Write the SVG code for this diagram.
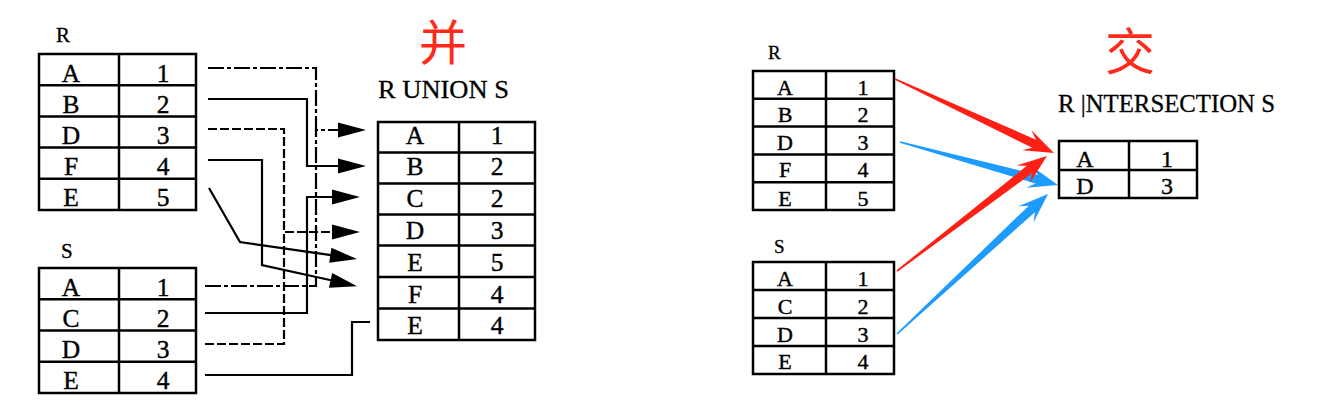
<svg xmlns="http://www.w3.org/2000/svg" width="1321" height="412" viewBox="0 0 1321 412">
<style>
.tb{fill:none;stroke:#000;stroke-width:2.5}
.gl{stroke:#000;stroke-width:2.5}
.t{fill:#000;text-anchor:middle;stroke:#000;stroke-width:0.4}
.lt{font-size:25.5px}
.rt{font-size:22px}
.lab{fill:#000;stroke:#000;stroke-width:0.3}
.cn{fill:none;stroke:#000;stroke-width:2.2}
.dd{stroke-dasharray:16,3,4,3}
.ds{stroke-dasharray:9,3}
.ah{fill:#000}
.cjk{fill:#ff2a1a;text-anchor:middle}
.red{fill:#ff1f14}
.blue{fill:#1e9bff}
</style>
<rect width="1321" height="412" fill="#fff"/>

<g font-family="'Noto Sans CJK SC', sans-serif">
<text class="cjk" x="443" y="60" font-size="48">并</text>
<text class="cjk" x="1130" y="70" font-size="50">交</text>
</g>

<g font-family="'Liberation Serif', 'DejaVu Serif', serif">
<g id="R-left">
<text class="lab" x="56" y="42" font-size="21">R</text>
<rect class="tb" x="39" y="54" width="157" height="156"/>
<path class="gl" d="M39,85.2H196M39,116.4H196M39,147.6H196M39,178.8H196M119,54V210"/>
<g class="t lt">
<text x="71" y="81.7">A</text><text x="163" y="81.7">1</text>
<text x="71" y="112.9">B</text><text x="163" y="112.9">2</text>
<text x="71" y="143.5">D</text><text x="163" y="143.5">3</text>
<text x="71" y="174.5">F</text><text x="163" y="174.5">4</text>
<text x="71" y="205.5">E</text><text x="163" y="205.5">5</text>
</g>
</g>

<g id="S-left">
<text class="lab" x="61" y="258" font-size="21">S</text>
<rect class="tb" x="39" y="268" width="157" height="125"/>
<path class="gl" d="M39,299.25H196M39,330.5H196M39,361.75H196M119,268V393"/>
<g class="t lt">
<text x="71" y="295.5">A</text><text x="163" y="295.5">1</text>
<text x="71" y="326.8">C</text><text x="163" y="326.8">2</text>
<text x="71" y="358">D</text><text x="163" y="358">3</text>
<text x="71" y="389.3">E</text><text x="163" y="389.3">4</text>
</g>
</g>

<g id="union">
<text class="lab" x="378" y="98" font-size="26" textLength="131" lengthAdjust="spacingAndGlyphs">R UNION S</text>
<rect class="tb" x="378" y="122" width="157" height="218"/>
<path class="gl" d="M378,152.5H535M378,183.5H535M378,214.5H535M378,245.5H535M378,277H535M378,308.5H535M459,122V340"/>
<g class="t lt">
<text x="415" y="143.5">A</text><text x="497" y="143.5">1</text>
<text x="415" y="175.3">B</text><text x="497" y="175.3">2</text>
<text x="415" y="207.1">C</text><text x="497" y="207.1">2</text>
<text x="415" y="238.9">D</text><text x="497" y="238.9">3</text>
<text x="415" y="270.7">E</text><text x="497" y="270.7">5</text>
<text x="415" y="302.5">F</text><text x="497" y="302.5">4</text>
<text x="415" y="334.3">E</text><text x="497" y="334.3">4</text>
</g>
</g>

<g id="R-right">
<text class="lab" x="768" y="59" font-size="19">R</text>
<rect class="tb" x="753" y="71" width="141" height="139"/>
<path class="gl" d="M753,98.8H894M753,126.6H894M753,154.4H894M753,182.2H894M826,71V210"/>
<g class="t rt">
<text x="785" y="94.5">A</text><text x="863" y="94.5">1</text>
<text x="785" y="121.8">B</text><text x="863" y="121.8">2</text>
<text x="785" y="149.6">D</text><text x="863" y="149.6">3</text>
<text x="785" y="177.4">F</text><text x="863" y="177.4">4</text>
<text x="785" y="206">E</text><text x="863" y="206">5</text>
</g>
</g>

<g id="S-right">
<text class="lab" x="774" y="253" font-size="19">S</text>
<rect class="tb" x="753" y="262" width="141" height="112"/>
<path class="gl" d="M753,290H894M753,318H894M753,346H894M826,262V374"/>
<g class="t rt">
<text x="785" y="285.5">A</text><text x="863" y="285.5">1</text>
<text x="785" y="313.5">C</text><text x="863" y="313.5">2</text>
<text x="785" y="341.5">D</text><text x="863" y="341.5">3</text>
<text x="785" y="369">E</text><text x="863" y="369">4</text>
</g>
</g>

<g id="intersection">
<text class="lab" x="1058" y="112" font-size="25" textLength="217" lengthAdjust="spacingAndGlyphs">R |NTERSECTION S</text>
<rect class="tb" x="1059" y="141" width="138" height="57"/>
<path class="gl" d="M1059,170H1197M1129,141V198"/>
<g class="t" font-size="24">
<text x="1085" y="166.5">A</text><text x="1167" y="166.5">1</text>
<text x="1085" y="193.5">D</text><text x="1167" y="193.5">3</text>
</g>
</g>
</g>

<g id="connectors-left">
<path class="cn dd" d="M208,68H316V130H340"/>
<path class="cn dd" d="M205,286H316V130"/>
<path class="cn" d="M208,99H307V166H340"/>
<path class="cn" d="M205,313H307V197H334"/>
<path class="cn ds" d="M208,129H284V232H334"/>
<path class="cn ds" d="M205,344H284V232"/>
<path class="cn" d="M208,160H262V265L331,280.3"/>
<path class="cn" d="M209,188L240,242L331,255.2"/>
<path class="cn" d="M205,375H352V322H370"/>
<polygon class="ah" points="338,122.5 366,130 338,137.5"/>
<polygon class="ah" points="338,158.5 366,166 338,173.5"/>
<polygon class="ah" points="332,189.5 360,197 332,204.5"/>
<polygon class="ah" points="332,224.5 360,232 332,239.5"/>
<polygon class="ah" points="328.9,287.7 357,286.2 332.2,272.9"/>
<polygon class="ah" points="329.2,262.7 357,259.1 331.4,247.8"/>
</g>

<g id="connectors-right">
<polygon class="red" points="895.34,78.27 1035.95,139.64 1031.44,130.37 1054,153 1022.16,150.31 1032.15,147.8 894.66,79.73"/>
<polygon class="blue" points="900.21,141.23 1037.95,174.88 1031.94,166.51 1058,185 1026.16,187.73 1035.59,183.56 899.79,142.77"/>
<polygon class="red" points="897.49,271.63 1032.28,172.96 1029.88,182.99 1047,156 1016.5,165.53 1026.8,165.82 896.51,270.37"/>
<polygon class="blue" points="897.54,334.59 1034.93,212.26 1033.48,222.47 1048,194 1018.52,206.33 1028.81,205.66 896.46,333.41"/>
</g>
</svg>
